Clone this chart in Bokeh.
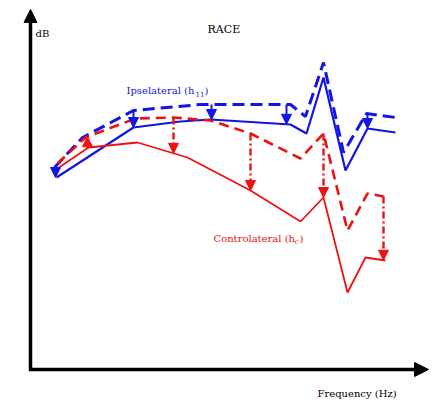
import numpy as np
from bokeh.plotting import figure
from bokeh.models import Range1d, Arrow, NormalHead
from bokeh.core.properties import value
from bokeh.embed import file_html
from bokeh.resources import INLINE

# Schematic frequency axis (arbitrary units) and levels (arbitrary dB units)
ipsi_ref_f = [24, 52, 103, 170, 260, 275, 293, 313, 336, 365]
ipsi_ref_db = [202, 232, 259, 265, 265, 253, 307, 217, 256, 252]

ipsi_f = [26, 103, 150, 180, 260, 276, 293, 315, 337, 365]
ipsi_db = [192, 242, 248, 250, 245, 236, 292, 199, 241, 237]

contra_ref_f = [27, 55, 105, 143, 180, 220, 270, 293, 317, 337, 353]
contra_ref_db = [206, 232, 251, 252, 249, 236, 211, 236, 139, 176, 173]

contra_f = [27, 58, 107, 157, 220, 270, 293, 317, 335, 355]
contra_db = [201, 222, 227, 212, 179, 148, 172, 77, 112, 109]

# Frequencies where the change between reference and measured curve is marked
ipsi_marks = [25, 103, 181, 256, 337]
contra_marks = [57, 143, 220, 293, 353]
contra_mark_up = [True, False, False, False, False]

BLUE = "#1414e6"
RED = "#ee1111"
FONT = value("DejaVu Serif")

p = figure(width=444, height=408, output_backend="svg", toolbar_location=None,
           x_range=Range1d(-30, 414), y_range=Range1d(-39, 369),
           min_border=0, outline_line_color=None)
p.axis.visible = False
p.grid.visible = False

# Axes drawn as arrows
p.add_layout(Arrow(x_start=0, y_start=-1.5, x_end=0, y_end=360, line_width=3.5,
                   line_color="black",
                   end=NormalHead(size=13, fill_color="black", line_color="black")))
p.add_layout(Arrow(x_start=-1.5, y_start=0, x_end=398, y_end=0, line_width=3.5,
                   line_color="black",
                   end=NormalHead(size=14, fill_color="black", line_color="black")))

# Curves
p.line(ipsi_ref_f, ipsi_ref_db, line_color=BLUE, line_width=3, line_dash="12 6")
p.line(ipsi_f, ipsi_db, line_color=BLUE, line_width=2.2)
p.line(contra_ref_f, contra_ref_db, line_color=RED, line_width=2.6, line_dash="10 6")
p.line(contra_f, contra_db, line_color=RED, line_width=1.8)

# Change markers
for f in ipsi_marks:
    y0 = float(np.interp(f, ipsi_ref_f, ipsi_ref_db))
    y1 = float(np.interp(f, ipsi_f, ipsi_db))
    p.add_layout(Arrow(x_start=f, y_start=y0, x_end=f, y_end=y1, line_color=BLUE,
                       line_width=2,
                       end=NormalHead(size=10, fill_color=BLUE, line_color=BLUE)))

for f, up in zip(contra_marks, contra_mark_up):
    y0 = float(np.interp(f, contra_ref_f, contra_ref_db))
    y1 = float(np.interp(f, contra_f, contra_db))
    if up:
        y0, y1 = y1, y0
    p.add_layout(Arrow(x_start=f, y_start=y0, x_end=f, y_end=y1, line_color=RED,
                       line_width=2.4, line_dash="7 3 2 3",
                       end=NormalHead(size=10, fill_color=RED, line_color=RED)))

# Labels
def label(x, y, txt, color="black", size="10px"):
    p.text(x=[x], y=[y], text=[txt], text_font=FONT, text_font_size=size,
           text_color=color, text_baseline="middle", text_align="left")

label(177, 340, "RACE", size="11px")
label(5, 336, "dB")
label(287, -24, "Frequency (Hz)")

label(96, 279, "Ipselateral (h", BLUE)
label(165, 276, "11", BLUE, "7px")
label(174, 279, ")", BLUE)

label(183, 131, "Controlateral (h", RED)
label(264, 128, "c", RED, "7px")
label(269, 131, ")", RED)

open("out.html", "w").write(file_html(p, INLINE))
